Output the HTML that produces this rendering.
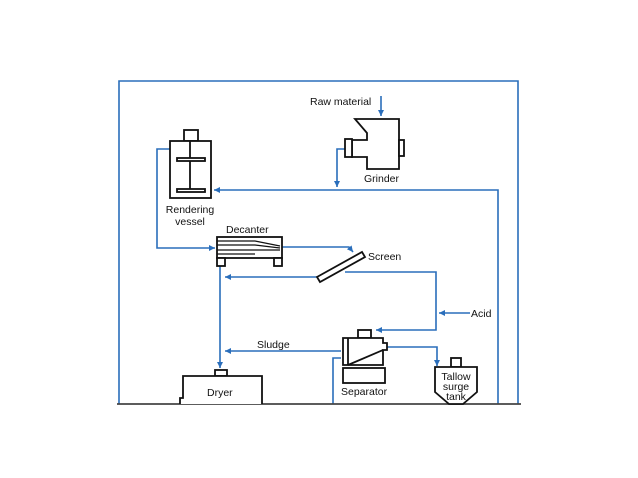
<!DOCTYPE html>
<html><head><meta charset="utf-8"><style>
html,body{margin:0;padding:0;background:#fff;}
svg{display:block;}
text{font-family:"Liberation Sans",sans-serif;font-size:10.5px;fill:#111;}
</style></head><body>
<svg width="638" height="478" viewBox="0 0 638 478" xmlns="http://www.w3.org/2000/svg">
<defs>
<marker id="a" markerWidth="7" markerHeight="7" refX="6" refY="3.5" orient="auto" markerUnits="userSpaceOnUse">
<path d="M0,0.5 L6,3.5 L0,6.5 z" fill="#2a6ebb"/></marker>
</defs>
<g fill="none" stroke="#2a6ebb" stroke-width="1.6">
<path d="M119,404 V81 H518 V404"/>
<path d="M381,96 V116" marker-end="url(#a)"/>
<path d="M345,149 H337 V187" marker-end="url(#a)"/>
<path d="M498,404 V190 H214" marker-end="url(#a)"/>
<path d="M170,149 H157 V248 H215" marker-end="url(#a)"/>
<path d="M282,247 H349 L353,252" marker-end="url(#a)"/>
<path d="M318,277 H225" marker-end="url(#a)"/>
<path d="M345,272 H436 V330 H376" marker-end="url(#a)"/>
<path d="M470,313 H439" marker-end="url(#a)"/>
<path d="M220,266 V368" marker-end="url(#a)"/>
<path d="M341,351 H225" marker-end="url(#a)"/>
<path d="M341,358 H333 V404"/>
<path d="M386,347 H437 V366" marker-end="url(#a)"/>
</g>
<line x1="117" y1="404" x2="521" y2="404" stroke="#444" stroke-width="1.8"/>
<g fill="#fff" stroke="#111" stroke-width="1.8">
<rect x="184" y="130" width="14" height="11"/>
<rect x="170" y="141" width="41" height="57"/>
<line x1="190" y1="141" x2="190" y2="192"/>
<rect x="177" y="158" width="28" height="3"/>
<rect x="177" y="189" width="28" height="3"/>
<path d="M355,119 H399 V169 H367 V157 H352 V140 H367 V133 Z"/>
<rect x="345" y="139" width="7" height="18"/>
<rect x="399" y="140" width="5" height="16"/>
<rect x="217" y="237" width="65" height="21"/>
<path d="M217,241 H255 L280,246 M217,245 H255 L280,248 M217,250 H255 L280,250 M217,254 H255" fill="none" stroke-width="1.2"/>
<rect x="217" y="258" width="8" height="8"/>
<rect x="274" y="258" width="8" height="8"/>
<path d="M317,277 L362,252 L365,257 L320,282 Z"/>
<rect x="215" y="370" width="12" height="6"/>
<path d="M180,404 V398 H183 V376 H262 V404"/>
<rect x="358" y="330" width="13" height="8"/>
<path d="M343,338 H383 V343 H387 V350 H383 V365 H343 Z"/>
<line x1="348" y1="338" x2="348" y2="365"/>
<line x1="348" y1="365" x2="383" y2="350"/>
<rect x="343" y="368" width="42" height="15"/>
<rect x="451" y="358" width="10" height="9"/>
<path d="M435,367 H477 V392 L463,404 H449 L435,392 Z"/>
</g>
<text x="310" y="105">Raw material</text>
<text x="364" y="182">Grinder</text>
<text x="190" y="213" text-anchor="middle">Rendering</text>
<text x="190" y="225" text-anchor="middle">vessel</text>
<text x="226" y="233">Decanter</text>
<text x="368" y="260">Screen</text>
<text x="471" y="317">Acid</text>
<text x="257" y="348">Sludge</text>
<text x="207" y="396">Dryer</text>
<text x="341" y="395">Separator</text>
<text x="456" y="380" text-anchor="middle">Tallow</text>
<text x="456" y="390" text-anchor="middle">surge</text>
<text x="456" y="400" text-anchor="middle">tank</text>
</svg>
</body></html>
